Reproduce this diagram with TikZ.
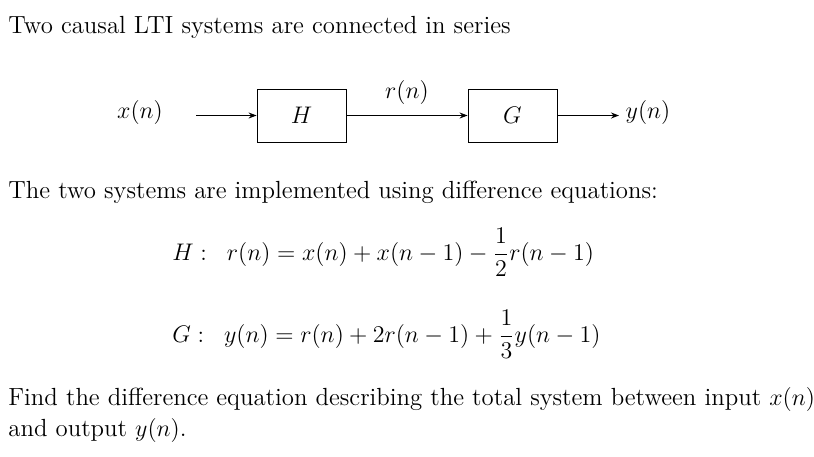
\documentclass[tikz,border=0pt]{standalone}
\usepackage{amsmath}
\usetikzlibrary{arrows.meta}
\begin{document}
\begin{tikzpicture}[x=0.5pt,y=-0.5pt,
  every node/.style={font=\fontsize{12.4}{14.5}\selectfont},
  blk/.style={draw,minimum width=44.5pt,minimum height=26.5pt,inner sep=0pt},
  txt/.style={anchor=base west,inner sep=0pt},
  arr/.style={-{Stealth[length=4pt,width=3pt]},semithick}]
\useasboundingbox (0,0) rectangle (814,456);
\node[txt] (t1) at (8,33) {Two causal LTI systems are connected in series};
\node[blk] (H) at (301.5,115.5) {$H$};
\node[blk] (G) at (512.5,115.5) {$G$};
\node (x) at (140,112) {$x(n)$};
\node (y) at (648,112) {$y(n)$};
\coordinate (xs) at (196,115.5);
\coordinate (ye) at (619,115.5);
\draw[arr] (xs) -- (H.west);
\draw[arr] (H.east) -- node[above=2pt] (r) {$r(n)$} (G.west);
\draw[arr] (G.east) -- (ye);
\node[txt] (t2) at (8,198) {The two systems are implemented using difference equations:};
\node[txt] (e1) at (172,260) {$\displaystyle H:\;\; r(n)=x(n)+x(n-1)-\frac{1}{2}r(n-1)$};
\node[txt] (e2) at (172,342) {$\displaystyle G:\;\; y(n)=r(n)+2r(n-1)+\frac{1}{3}y(n-1)$};
\node[txt] (t3) at (8,405) {Find the difference equation describing the total system between input $x(n)$};
\node[txt] (t4) at (8,436) {and output $y(n)$.};
\end{tikzpicture}
\end{document}
